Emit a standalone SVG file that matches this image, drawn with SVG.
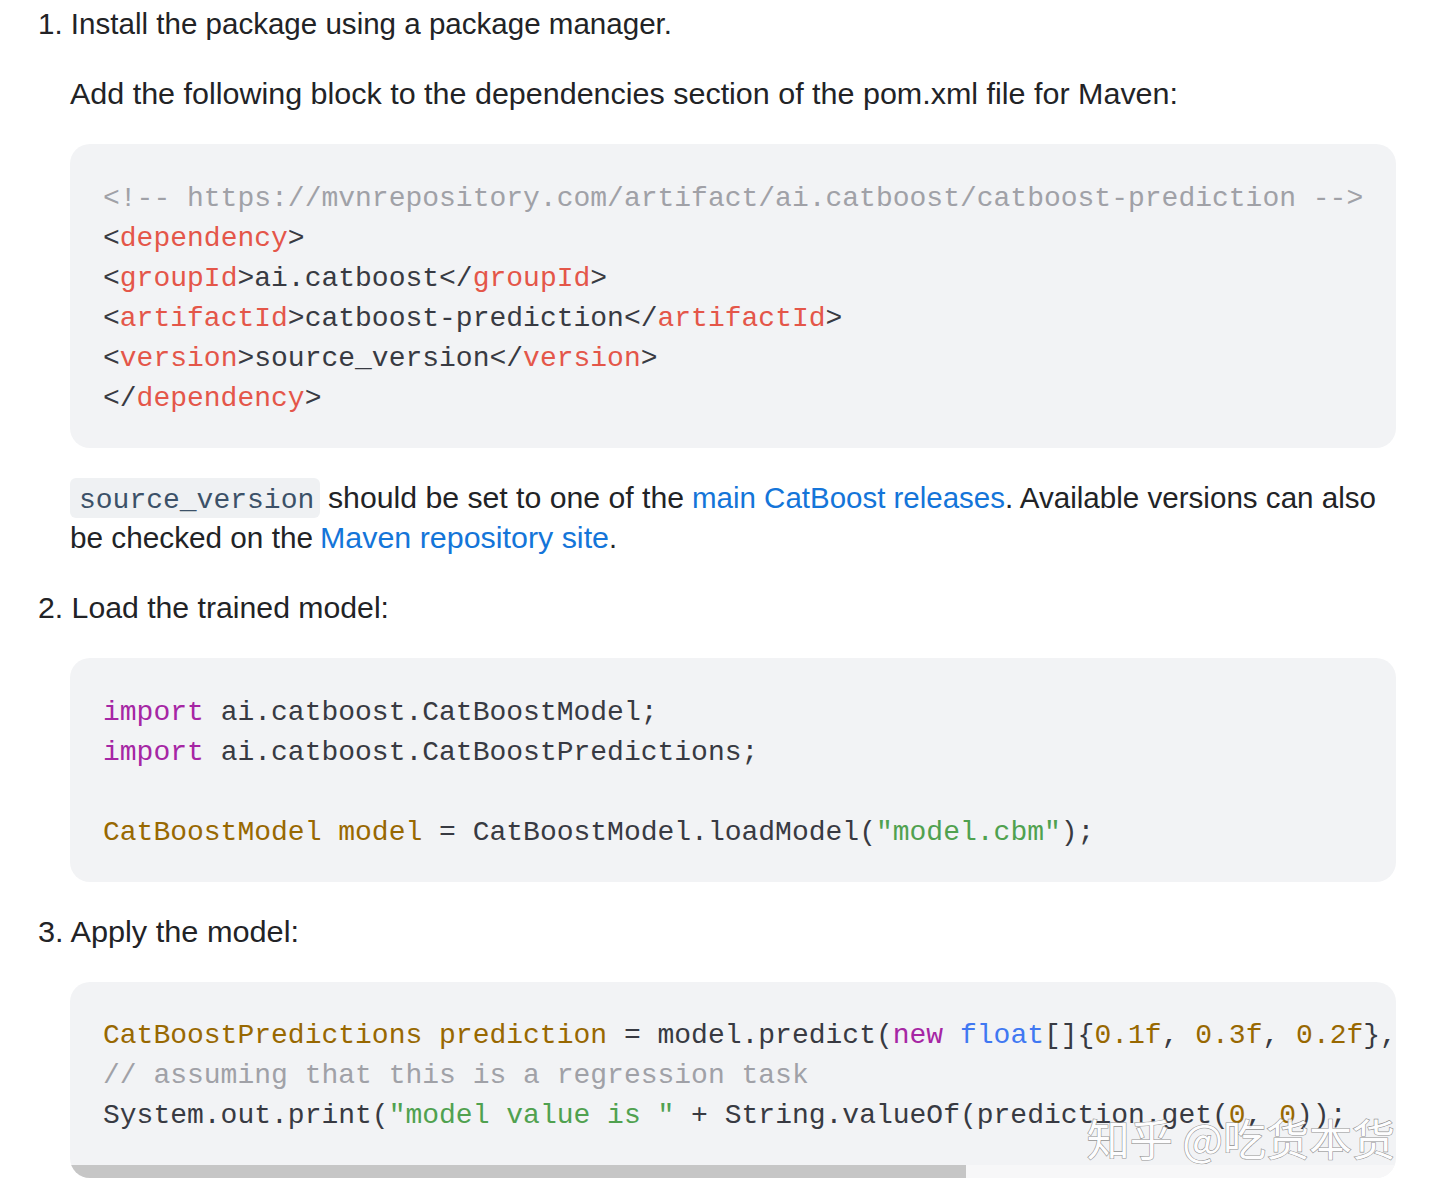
<svg xmlns="http://www.w3.org/2000/svg" width="1431" height="1197" viewBox="0 0 1431 1197" xml:space="preserve">
<style>
.t{font-family:"Liberation Sans","Noto Sans",Arial,sans-serif;font-size:29px;fill:#222326}
.l{fill:#1475d9}
.m{font-family:"Liberation Mono","DejaVu Sans Mono",monospace;font-size:28px;fill:#383a42}
.c{fill:#a0a1a7}
.tag{fill:#e45649}
.kw{fill:#a626a4}
.ty{fill:#986801}
.bl{fill:#4078f2}
.st{fill:#50a14f}
.blk{fill:#f2f3f5}
.wm{font-family:"Noto Sans CJK SC","Noto Sans",sans-serif;font-size:43px;fill:#ffffff;stroke:#8a8a8a;stroke-width:1.2;paint-order:stroke;opacity:0.9}
</style>
<defs>
<clipPath id="clip3"><rect x="70" y="982" width="1326" height="196" rx="20"/></clipPath>
</defs>
<rect width="1431" height="1197" fill="#ffffff"/>

<g id="step1">
<text class="t" x="38" y="34" textLength="634" lengthAdjust="spacingAndGlyphs">1. Install the package using a package manager.</text>
<text class="t" x="70" y="104" textLength="1108" lengthAdjust="spacingAndGlyphs">Add the following block to the dependencies section of the pom.xml file for Maven:</text>
</g>

<g id="code1">
<rect class="blk" x="70" y="144" width="1326" height="304" rx="20"/>
<text class="m c" x="103" y="206">&lt;!-- https://mvnrepository.com/artifact/ai.catboost/catboost-prediction --&gt;</text>
<text class="m" x="103" y="246">&lt;<tspan class="tag">dependency</tspan>&gt;</text>
<text class="m" x="103" y="286">&lt;<tspan class="tag">groupId</tspan>&gt;ai.catboost&lt;/<tspan class="tag">groupId</tspan>&gt;</text>
<text class="m" x="103" y="326">&lt;<tspan class="tag">artifactId</tspan>&gt;catboost-prediction&lt;/<tspan class="tag">artifactId</tspan>&gt;</text>
<text class="m" x="103" y="366">&lt;<tspan class="tag">version</tspan>&gt;source_version&lt;/<tspan class="tag">version</tspan>&gt;</text>
<text class="m" x="103" y="406">&lt;/<tspan class="tag">dependency</tspan>&gt;</text>
</g>

<g id="note">
<rect x="70" y="478" width="250" height="40" rx="6" fill="#eff1f3"/>
<text class="m" x="79" y="508" style="fill:#3c5168">source_version</text>
<text class="t" x="328" y="508" textLength="356" lengthAdjust="spacingAndGlyphs">should be set to one of the</text>
<text class="t l" x="692" y="508" textLength="313" lengthAdjust="spacingAndGlyphs">main CatBoost releases</text>
<text class="t" x="1005" y="508" textLength="371" lengthAdjust="spacingAndGlyphs">. Available versions can also</text>
<text class="t" x="70" y="548" textLength="243" lengthAdjust="spacingAndGlyphs">be checked on the</text>
<text class="t l" x="320" y="548" textLength="289" lengthAdjust="spacingAndGlyphs">Maven repository site</text>
<text class="t" x="609" y="548">.</text>
</g>

<g id="step2">
<text class="t" x="38" y="618" textLength="351" lengthAdjust="spacingAndGlyphs">2. Load the trained model:</text>
</g>

<g id="code2">
<rect class="blk" x="70" y="658" width="1326" height="224" rx="20"/>
<text class="m" x="103" y="720"><tspan class="kw">import</tspan> ai.catboost.CatBoostModel;</text>
<text class="m" x="103" y="760"><tspan class="kw">import</tspan> ai.catboost.CatBoostPredictions;</text>
<text class="m" x="103" y="840"><tspan class="ty">CatBoostModel model</tspan> = CatBoostModel.loadModel(<tspan class="st">"model.cbm"</tspan>);</text>
</g>

<g id="step3">
<text class="t" x="38" y="942" textLength="261" lengthAdjust="spacingAndGlyphs">3. Apply the model:</text>
</g>

<g id="code3">
<rect class="blk" x="70" y="982" width="1326" height="196" rx="20"/>
<g clip-path="url(#clip3)">
<rect x="70" y="1165" width="1326" height="13" fill="#f7f7f8"/>
<rect x="70" y="1165" width="896" height="13" fill="#c6c6c6"/>
<text class="m" x="103" y="1043"><tspan class="ty">CatBoostPredictions prediction</tspan> = model.predict(<tspan class="kw">new</tspan> <tspan class="bl">float</tspan>[]{<tspan class="ty">0.1f</tspan>, <tspan class="ty">0.3f</tspan>, <tspan class="ty">0.2f</tspan>},</text>
<text class="m c" x="103" y="1083">// assuming that this is a regression task</text>
<text class="m" x="103" y="1123">System.out.print(<tspan class="st">"model value is "</tspan> + String.valueOf(prediction.get(<tspan class="ty">0</tspan>, <tspan class="ty">0</tspan>));</text>
</g>
<text class="wm" x="1395" y="1156" text-anchor="end">知乎 @吃货本货</text>
</g>
</svg>
